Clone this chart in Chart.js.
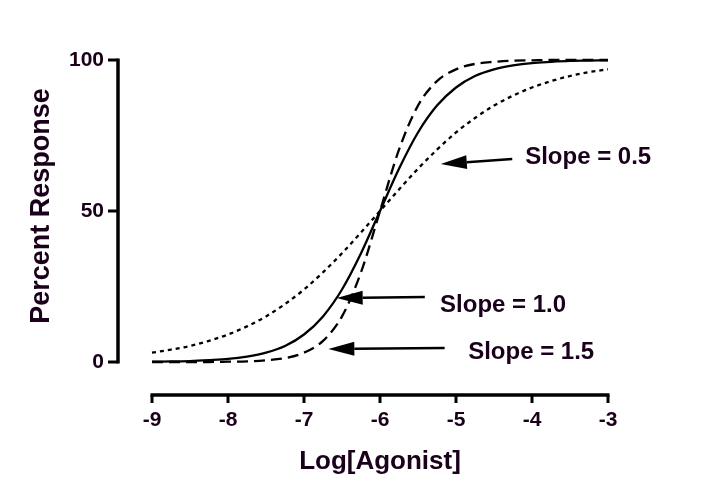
<!DOCTYPE html>
<html>
<head>
<meta charset="utf-8">
<script src="https://cdn.jsdelivr.net/npm/chart.js@4/dist/chart.umd.min.js"></script>
<style>
  html,body{margin:0;padding:0;background:#fff;}
  #wrap{width:704px;height:504px;}
</style>
</head>
<body>
<div id="wrap"><canvas id="chart-dose"></canvas></div>
<script>
'use strict';

// log[agonist] sample points and % response
const logDose = [-9,-8.75,-8.5,-8.25,-8,-7.75,-7.5,-7.25,-7,-6.75,-6.5,-6.25,-6,-5.75,-5.5,-5.25,-5,-4.75,-4.5,-4.25,-4,-3.75,-3.5,-3.25,-3];
const slope05 = [3.1,4.1,5.3,7.0,9.1,11.8,15.1,19.2,24.0,29.7,36.0,42.9,50,57.1,64.0,70.3,76.0,80.8,84.9,88.2,90.9,93.0,94.7,96.0,96.9];
const slope10 = [0.1,0.2,0.3,0.6,1.0,1.8,3.1,5.3,9.1,15.1,24.0,36.0,50,64.0,76.0,84.9,90.9,94.7,96.9,98.2,99.0,99.4,99.7,99.8,99.9];
const slope15 = [0,0,0,0,0.1,0.2,0.6,1.3,3.1,7.0,15.1,29.7,50,70.3,84.9,93.0,96.9,98.7,99.4,99.8,99.9,100,100,100,100];
const xTicks = [-9,-8,-7,-6,-5,-4,-3];
const yTicks = [0,50,100];

// arrow labels: tail -> tip, text anchor (data coords)
const labels = ['Slope = 0.5','Slope = 1.0','Slope = 1.5'];
const arrowTip  = [[-5.20,65.6],[-6.57,21.2],[-6.68,4.3]];
const arrowTail = [[-4.26,67.2],[-5.41,21.5],[-5.15,4.6]];
const textAt    = [[-4.09,67.9],[-5.21,18.9],[-4.84,3.3]];

const INK = '#1a001a';
const FONT = '"Liberation Sans", Arial, sans-serif';

const pts = ys => logDose.map((x,i)=>({x, y:ys[i]}));

const axesPlugin = {
  id:'prismAxes',
  afterDraw(chart) {
    const c = chart.ctx, xs = chart.scales.x, ys = chart.scales.y;
    c.save();
    c.strokeStyle = '#000';
    c.fillStyle = INK;
    // y axis, detached left of plot
    const ax = 118;
    c.lineWidth = 3.5;
    c.beginPath(); c.moveTo(ax, ys.getPixelForValue(0)+1.5); c.lineTo(ax, ys.getPixelForValue(100)-1.5); c.stroke();
    c.lineWidth = 3;
    c.font = 'bold 21px '+FONT;
    c.textAlign = 'right'; c.textBaseline = 'middle';
    yTicks.forEach(v=>{
      const py = ys.getPixelForValue(v);
      c.beginPath(); c.moveTo(108, py); c.lineTo(ax, py); c.stroke();
      c.fillText(String(v), 104, py);
    });
    // x axis, detached below plot
    const ay = 395;
    c.lineWidth = 3.5;
    c.beginPath(); c.moveTo(xs.getPixelForValue(-9)-1.5, ay); c.lineTo(xs.getPixelForValue(-3)+1.5, ay); c.stroke();
    c.lineWidth = 3;
    c.textAlign = 'center'; c.textBaseline = 'middle';
    xTicks.forEach(v=>{
      const px = xs.getPixelForValue(v);
      c.beginPath(); c.moveTo(px, ay); c.lineTo(px, 403); c.stroke();
      c.fillText(String(v), px, 420);
    });
    // axis titles
    c.font = 'bold 26px '+FONT;
    c.fillText('Log[Agonist]', 380, 462);
    c.save();
    c.font = 'bold 27px '+FONT;
    c.translate(42, 206); c.rotate(-Math.PI/2);
    c.fillText('Percent Response', 0, 0);
    c.restore();
    // arrows + slope labels
    c.font = 'bold 24px '+FONT;
    c.textAlign = 'left';
    labels.forEach((t,i)=>{
      const tx = xs.getPixelForValue(arrowTail[i][0]), ty = ys.getPixelForValue(arrowTail[i][1]);
      const hx = xs.getPixelForValue(arrowTip[i][0]),  hy = ys.getPixelForValue(arrowTip[i][1]);
      const ang = Math.atan2(hy-ty, hx-tx), L = 26, W = 7;
      const bx = hx - L*Math.cos(ang), by = hy - L*Math.sin(ang);
      c.lineWidth = 2.5;
      c.beginPath(); c.moveTo(tx, ty); c.lineTo(bx, by); c.stroke();
      c.fillStyle = '#000';
      c.beginPath();
      c.moveTo(hx, hy);
      c.lineTo(bx + W*Math.sin(ang), by - W*Math.cos(ang));
      c.lineTo(bx - W*Math.sin(ang), by + W*Math.cos(ang));
      c.closePath(); c.fill();
      c.fillStyle = INK;
      c.fillText(t, xs.getPixelForValue(textAt[i][0]), ys.getPixelForValue(textAt[i][1]));
    });
    c.restore();
  }
};

const line = (label, ys, dash) => ({
  label, data:pts(ys), borderColor:'#000', borderWidth:2.3, borderDash:dash,
  pointRadius:0, fill:false, cubicInterpolationMode:'monotone', clip:false
});

new Chart(document.getElementById('chart-dose'), {
  type:'line',
  data:{datasets:[
    line('Slope = 0.5', slope05, [4,4]),
    line('Slope = 1.0', slope10, []),
    line('Slope = 1.5', slope15, [11,6]),
  ]},
  options:{
    responsive:true, maintainAspectRatio:false, animation:false,
    layout:{padding:{left:152,right:96,top:60,bottom:142}},
    plugins:{legend:{display:false},tooltip:{enabled:false}},
    scales:{
      x:{type:'linear',min:-9,max:-3,display:false},
      y:{min:0,max:100,display:false}
    }
  },
  plugins:[axesPlugin]
});
</script>
</body>
</html>
